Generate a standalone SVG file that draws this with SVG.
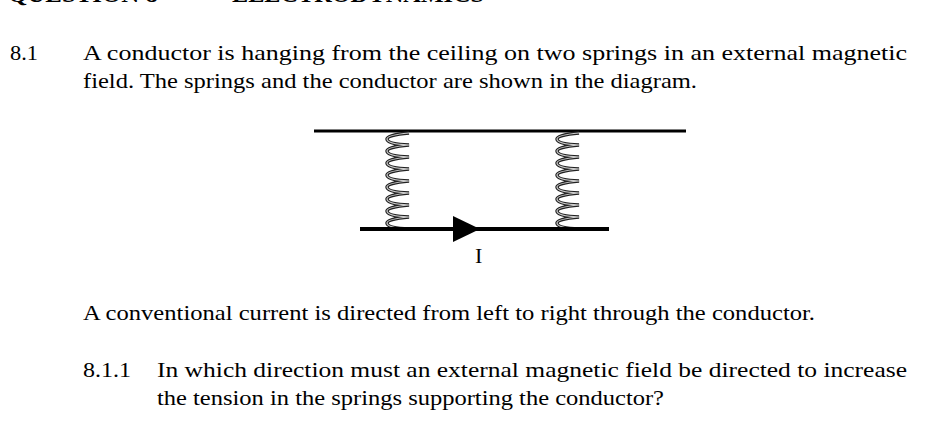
<svg xmlns="http://www.w3.org/2000/svg" width="934" height="432" viewBox="0 0 934 432">
<style>
text{font-family:"Liberation Serif","DejaVu Serif",serif;font-size:22px;fill:#000}
.h{font-weight:bold;font-size:24px}
.sp{fill:none;stroke:#222;stroke-width:3.5}
.sp2{fill:none;stroke:#ccc;stroke-width:1.2}
</style>
<defs>
<path id="coil" d="M0,0 q-22,2 -22,6 q0,5 22,6 q-22,2 -22,6 q0,5 22,6 q-22,2 -22,6 q0,5 22,6 q-22,2 -22,6 q0,5 22,6 q-22,2 -22,6 q0,5 22,6 q-22,2 -22,6 q0,5 22,6 q-22,2 -22,6 q0,5 22,6 q-22,2 -22,6 q0,5 22,6"/>
</defs>
<text class="h" x="8" y="2" textLength="150" lengthAdjust="spacingAndGlyphs">QUESTION 8</text>
<text class="h" x="232" y="2" textLength="252" lengthAdjust="spacingAndGlyphs">ELECTRODYNAMICS</text>
<text x="10" y="60" textLength="28" lengthAdjust="spacingAndGlyphs">8.1</text>
<text x="83" y="60" textLength="824" lengthAdjust="spacingAndGlyphs">A conductor is hanging from the ceiling on two springs in an external magnetic</text>
<text x="83" y="88" textLength="614" lengthAdjust="spacingAndGlyphs">field. The springs and the conductor are shown in the diagram.</text>
<g id="ceiling"><line x1="314" y1="131" x2="686" y2="131" stroke="#000" stroke-width="3"/></g>
<g id="spring-left" transform="translate(409,133)"><use href="#coil" class="sp"/><use href="#coil" class="sp2"/></g>
<g id="spring-right" transform="translate(579,133)"><use href="#coil" class="sp"/><use href="#coil" class="sp2"/></g>
<g id="conductor"><line x1="360" y1="229" x2="609" y2="229" stroke="#000" stroke-width="4"/>
<polygon points="453,216 480,229 453,242" fill="#000"/></g>
<text x="475" y="263">I</text>
<text x="83" y="320" textLength="732" lengthAdjust="spacingAndGlyphs">A conventional current is directed from left to right through the conductor.</text>
<text x="83" y="377" textLength="48" lengthAdjust="spacingAndGlyphs">8.1.1</text>
<text x="157" y="377" textLength="750" lengthAdjust="spacingAndGlyphs">In which direction must an external magnetic field be directed to increase</text>
<text x="157" y="405" textLength="507" lengthAdjust="spacingAndGlyphs">the tension in the springs supporting the conductor?</text>
</svg>
